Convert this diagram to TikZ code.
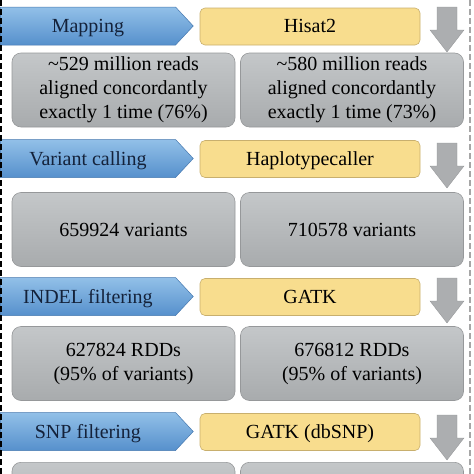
\documentclass[tikz,border=0pt]{standalone}
\usepackage{fontspec}
\setmainfont{Liberation Serif}
\usepackage{tikz}
\usetikzlibrary{shapes.symbols, positioning}
\definecolor{stepnavy}{RGB}{20,34,58}
\definecolor{bluetop}{RGB}{146,192,232}
\definecolor{bluebot}{RGB}{86,144,204}
\definecolor{blueedge}{RGB}{70,120,175}
\definecolor{toolfill}{RGB}{248,221,142}
\definecolor{tooledge}{RGB}{200,175,110}
\definecolor{restop}{RGB}{196,199,201}
\definecolor{resbot}{RGB}{168,171,173}
\definecolor{resedge}{RGB}{150,152,154}
\definecolor{downgray}{RGB}{172,174,176}
\tikzset{
  stage/.style={signal, signal to=east, signal pointer angle=94,
    draw=blueedge, top color=bluetop, bottom color=bluebot,
    minimum width=193pt, minimum height=38pt, inner sep=0pt,
    text height=13pt, text depth=0pt,
    text=stepnavy, line width=0.5pt},
  tool/.style={rectangle, draw=tooledge, fill=toolfill,
    minimum width=220pt, minimum height=37pt, rounded corners=5pt,
    text height=12pt, text depth=0pt, line width=0.6pt},
  result/.style={rectangle, draw=resedge, top color=restop, bottom color=resbot,
    minimum width=223pt, minimum height=74pt, rounded corners=9pt,
    align=center, line width=0.6pt},
  downarrow/.style={fill=downgray, draw=downgray!85!black, line width=0.3pt},
  border/.style={dashed, line width=2.6pt, dash pattern=on 6pt off 3pt}
}

\begin{document}
\begin{tikzpicture}[x=1pt, y=-1pt,
    every node/.style={font=\fontsize{20}{24}\selectfont}]
    \clip (0,0) rectangle (474,474);

    % Mapping
    \node[stage, anchor=west] (map) at (0,26) {Mapping};
    \node[tool] (hisat) at (310,26.5) {Hisat2};
    \node[result] (readsa) at (123.5,90) {\textasciitilde529 million reads\\aligned concordantly\\exactly 1 time (76\%)};
    \node[result] (readsb) at (352,90) {\textasciitilde580 million reads\\aligned concordantly\\exactly 1 time (73\%)};

    % Variant calling
    \node[stage, anchor=west] (call) at (0,158.5) {Variant calling};
    \node[tool] (hapl) at (310,159) {Haplotypecaller};
    \node[result] (vara) at (123.5,229.5) {659924 variants};
    \node[result] (varb) at (352,229.5) {710578 variants};

    % INDEL filtering
    \node[stage, anchor=west] (indel) at (0,296.5) {INDEL filtering};
    \node[tool] (gatk) at (310,297) {GATK};
    \node[result] (rdda) at (123.5,363.5) {627824 RDDs\\(95\% of variants)};
    \node[result] (rddb) at (352,363.5) {676812 RDDs\\(95\% of variants)};

    % SNP filtering
    \node[stage, anchor=west] (snp) at (0,431.5) {SNP filtering};
    \node[tool] (dbsnp) at (310,432) {GATK (dbSNP)};
    \node[result, anchor=north] (snpa) at (123.5,462) {};
    \node[result, anchor=north] (snpb) at (352,462) {};

    % Down arrows
    \foreach \t in {7,143,278,415}
      \filldraw[downarrow] (437,\t) -- (457,\t) -- (457,\t+23) -- (464,\t+23)
        -- (447,\t+45) -- (430,\t+23) -- (437,\t+23) -- cycle;

    % Side borders
    \draw[border, black] (1,0) -- (1,474);
    \draw[border, gray!70, line width=2.2pt] (470,0) -- (470,474);
  \end{tikzpicture}
\end{document}
